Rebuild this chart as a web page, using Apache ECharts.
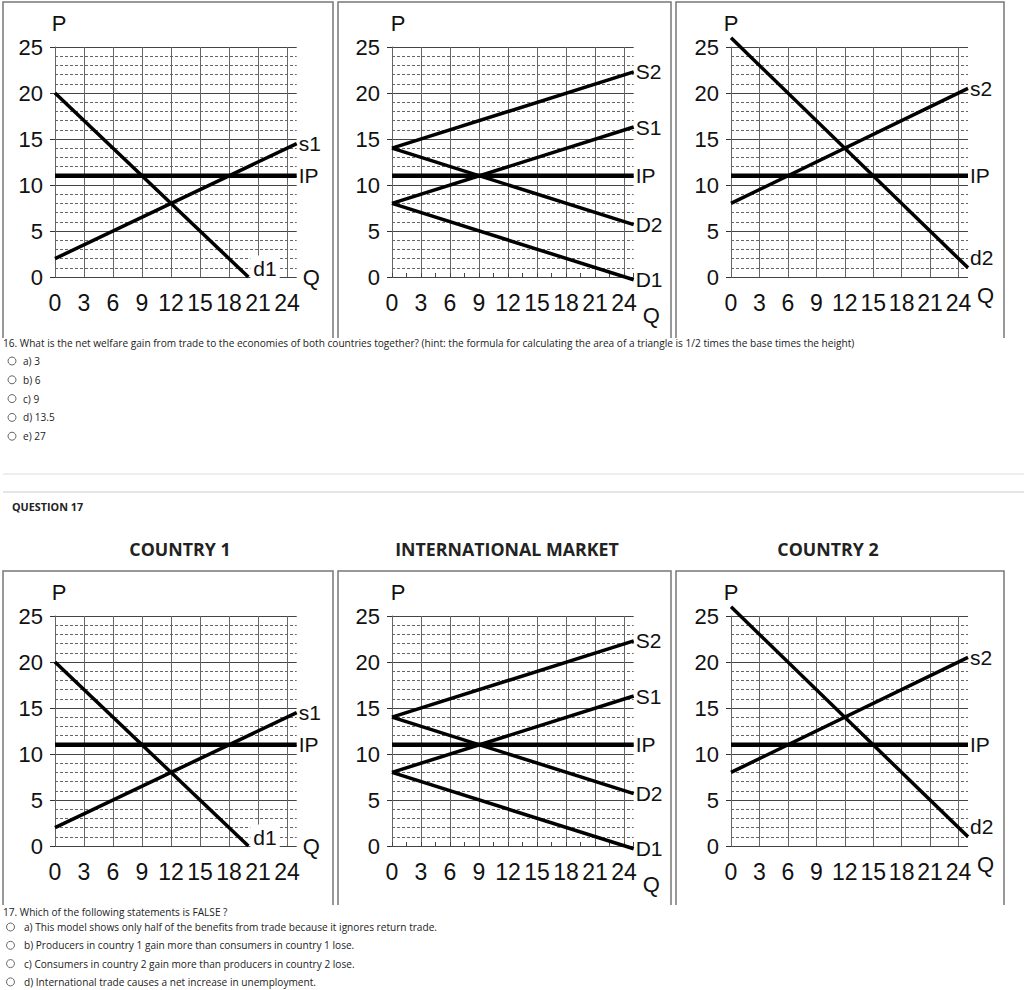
<!DOCTYPE html>
<html>
<head>
<meta charset="utf-8">
<script src="https://cdn.jsdelivr.net/npm/echarts@6/dist/echarts.min.js"></script>
<style>
  html, body { margin: 0; padding: 0; background: #fff; }
  #chart { width: 1024px; height: 990px; }
</style>
</head>
<body>
<div id="chart"></div>
<script>
// axis ticks shared by every panel
const qTicks = [0, 3, 6, 9, 12, 15, 18, 21, 24];
const pTicks = [0, 5, 10, 15, 20, 25];
const qMax = 25;

// international price
const worldPrice = [[0, 11], [25, 11]];
// country 1
const supplyOne = [[0, 2], [25, 14.5]];
const demandOne = [[0, 20], [20, 0]];
// international market
const marketS2 = [[0, 14], [25, 22.3]];
const marketS1 = [[0, 8], [25, 16.3]];
const marketD2 = [[0, 14], [25, 5.7]];
const marketD1 = [[0, 8], [25, -0.3]];
// country 2
const supplyTwo = [[0, 8], [25, 20.5]];
const demandTwo = [[0, 26], [25, 1]];

const q16Text = '16. What is the net welfare gain from trade to the economies of both countries together? (hint: the formula for calculating the area of a triangle is 1/2 times the base times the height)';
const q16Options = ['a) 3', 'b) 6', 'c) 9', 'd) 13.5', 'e) 27'];
const q17Text = '17. Which of the following statements is FALSE ?';
const q17Options = [
  'a) This model shows only half of the benefits from trade because it ignores return trade.',
  'b) Producers in country 1 gain more than consumers in country 1 lose.',
  'c) Consumers in country 2 gain more than producers in country 2 lose.',
  'd) International trade causes a net increase in unemployment.'
];
const panelTitles = ['COUNTRY 1', 'INTERNATIONAL MARKET', 'COUNTRY 2'];

const ink = '#111';
const axisFont = '"Liberation Sans", Arial, sans-serif';
const pageFont = '"Open Sans", sans-serif';

const panels = [
  { left: 55, width: 241.7, box: [3, 333], pPad: [0, 0, 0, 8], qGap: 6, qDrop: 0, minor: false,
    lines: [
      { name: 's1', data: supplyOne },
      { name: 'IP', data: worldPrice, bold: true },
      { name: 'd1', data: demandOne, offset: [0, -9], bg: true }
    ] },
  { left: 392, width: 241.7, box: [338, 671], pPad: [0, 0, 0, 12], qGap: 9, qDrop: 38, minor: true,
    lines: [
      { name: 'S2', data: marketS2 },
      { name: 'S1', data: marketS1 },
      { name: 'IP', data: worldPrice, bold: true },
      { name: 'D2', data: marketD2 },
      { name: 'D1', data: marketD1 }
    ] },
  { left: 731, width: 237, box: [676, 1004], pPad: [0, 0, 0, 0], qGap: 9, qDrop: 18, minor: false,
    lines: [
      { name: 's2', data: supplyTwo },
      { name: 'IP', data: worldPrice, bold: true },
      { name: 'd2', data: demandTwo, offset: [0, -10] }
    ] }
];
const rows = [
  { top: 47, boxTop: 2, boxBottom: 338 },
  { top: 616, boxTop: 571, boxBottom: 905 }
];
const plotHeight = 230;

const grid = [], xAxis = [], yAxis = [], series = [], graphic = [];

rows.forEach(function (row) {
  panels.forEach(function (p) {
    const i = grid.length;
    grid.push({ left: p.left, top: row.top, width: p.width, height: plotHeight });
    xAxis.push({
      gridIndex: i, type: 'value', min: 0, max: qMax, interval: qTicks[1] - qTicks[0],
      axisLine: { show: false },
      axisTick: { show: p.minor, inside: true, length: 4, lineStyle: { color: '#444' } },
      minorTick: { show: p.minor, splitNumber: 2, length: 4, lineStyle: { color: '#444' } },
      axisLabel: {
        fontSize: 23, color: ink, fontFamily: axisFont, margin: 14, showMaxLabel: false,
        formatter: function (v) { return qTicks.indexOf(v) >= 0 ? String(v) : ''; }
      },
      splitLine: { show: true, showMaxLine: false, lineStyle: { color: '#666', width: 1 } }
    });
    yAxis.push({
      gridIndex: i, type: 'value', min: pTicks[0], max: pTicks[pTicks.length - 1],
      interval: pTicks[1] - pTicks[0],
      name: 'P', nameLocation: 'end', nameGap: 13,
      nameTextStyle: { fontSize: 22, color: ink, fontFamily: axisFont, padding: p.pPad },
      axisLine: { show: true, lineStyle: { color: '#666' } },
      axisTick: { show: true, length: 5, lineStyle: { color: '#333' } },
      axisLabel: { fontSize: 22, color: ink, fontFamily: axisFont, margin: 12 },
      splitLine: { show: true, lineStyle: { color: '#444', width: 1 } },
      minorTick: { show: false, splitNumber: 5 },
      minorSplitLine: { show: true, lineStyle: { color: '#666', width: 1, type: [3, 2] } }
    });
    p.lines.forEach(function (l) {
      series.push({
        type: 'line', name: l.name, xAxisIndex: i, yAxisIndex: i, data: l.data,
        symbol: 'none', clip: false, silent: true, z: 5,
        lineStyle: { color: '#000', width: l.bold ? 4.5 : 3.5 },
        endLabel: {
          show: true, formatter: function (prm) { return prm.seriesName; },
          fontSize: 21, color: ink, fontFamily: axisFont, distance: 2,
          offset: l.offset || [0, 0],
          backgroundColor: l.bg ? '#fff' : 'transparent', padding: l.bg ? [2, 3] : 0
        }
      });
    });
    // Q axis title sits at a different spot in each panel
    graphic.push({
      type: 'text', silent: true,
      x: p.left + p.width + p.qGap, y: row.top + plotHeight + p.qDrop,
      style: { text: 'Q', fontSize: 22, fontFamily: axisFont, fill: ink, textVerticalAlign: 'middle' }
    });
    // panel frame, open at the bottom
    graphic.push({
      type: 'polyline', silent: true,
      shape: { points: [[p.box[0], row.boxBottom], [p.box[0], row.boxTop], [p.box[1], row.boxTop], [p.box[1], row.boxBottom]] },
      style: { stroke: '#777', lineWidth: 1.5, fill: null }
    });
  });
});

function text(str, x, y, size, weight, align) {
  return {
    type: 'text', silent: true, x: x, y: y,
    style: { text: str, fontSize: size, fontWeight: weight || 'normal', fontFamily: pageFont,
      fill: '#222', textAlign: align || 'left', textVerticalAlign: 'middle' }
  };
}
function radio(x, y) {
  return { type: 'circle', silent: true, shape: { cx: x, cy: y, r: 4 },
    style: { stroke: '#666', lineWidth: 1, fill: '#fff' } };
}

graphic.push(text(q16Text, 3, 343, 10.1));
q16Options.forEach(function (t, k) {
  const y = 361 + k * 18.8;
  graphic.push(radio(12, y), text(t, 23, y, 10.1));
});
graphic.push({ type: 'line', silent: true, shape: { x1: 3, y1: 474, x2: 1024, y2: 474 }, style: { stroke: '#ddd', lineWidth: 1 } });
graphic.push({ type: 'line', silent: true, shape: { x1: 3, y1: 492, x2: 1024, y2: 492 }, style: { stroke: '#ccc', lineWidth: 1 } });
graphic.push(text('QUESTION 17', 12, 506, 10.8, 'bold'));
[180, 507, 828].forEach(function (cx, k) {
  graphic.push(text(panelTitles[k], cx, 549, 17.8, 'bold', 'center'));
});
graphic.push(text(q17Text, 3, 912, 10.1));
q17Options.forEach(function (t, k) {
  const y = 927 + k * 18.3;
  graphic.push(radio(10.5, y), text(t, 24, y, 10.1));
});

const chart = echarts.init(document.getElementById('chart'), null, { renderer: 'svg' });
chart.setOption({
  animation: false,
  backgroundColor: '#fff',
  grid: grid,
  xAxis: xAxis,
  yAxis: yAxis,
  series: series,
  graphic: graphic
});
</script>
</body>
</html>
